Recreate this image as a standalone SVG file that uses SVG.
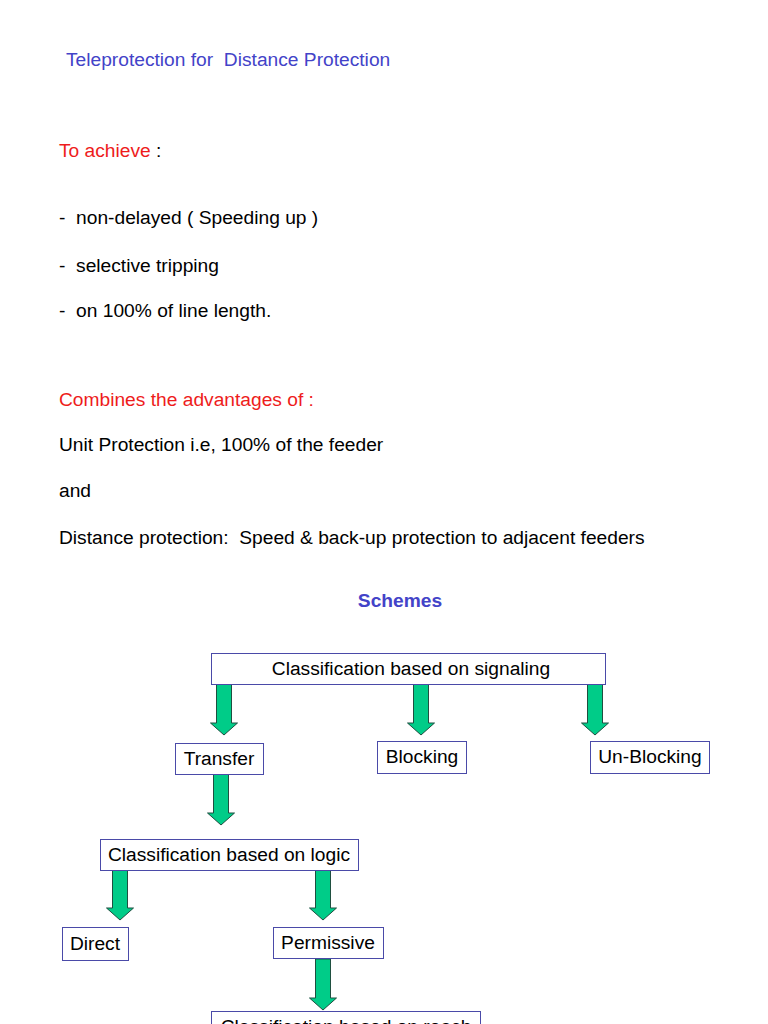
<svg xmlns="http://www.w3.org/2000/svg" width="768" height="1024" viewBox="0 0 768 1024">
<style>
text{font-family:"Liberation Sans",Arial,sans-serif;font-size:19.2px;fill:#000;white-space:pre}
.blue{fill:#4343c8}
.red{fill:#ee1c1c}
.bold{font-weight:bold}
.box rect{fill:#fff;stroke:#4a4aa8;stroke-width:1}
.box text{text-anchor:middle}
.arr{fill:#00cc88;stroke:#1f4f40;stroke-width:1;stroke-linejoin:miter}
</style>
<rect width="768" height="1024" fill="#fff"/>
<g id="texts">
<text x="66" y="66" class="blue">Teleprotection for  Distance Protection</text>
<text x="59" y="157"><tspan class="red">To achieve</tspan> :</text>
<text x="59" y="224">-  non-delayed ( Speeding up )</text>
<text x="59" y="272">-  selective tripping</text>
<text x="59" y="317">-  on 100% of line length.</text>
<text x="59" y="406" class="red">Combines the advantages of :</text>
<text x="59" y="451">Unit Protection i.e, 100% of the feeder</text>
<text x="59" y="497">and</text>
<text x="59" y="544">Distance protection:  Speed &amp; back-up protection to adjacent feeders</text>
<text x="400" y="607" class="blue bold" text-anchor="middle">Schemes</text>
</g>
<g id="connectors">
<path class="arr" d="M216.5,684 h15 V723 h6 L224,735 L210.5,723 h6 Z"/>
<path class="arr" d="M413.5,684 h15 V723 h6 L421,735 L407.5,723 h6 Z"/>
<path class="arr" d="M587.5,684 h15 V723 h6 L595,735 L581.5,723 h6 Z"/>
<path class="arr" d="M213.5,774 h15 V813 h6 L221,825 L207.5,813 h6 Z"/>
<path class="arr" d="M112.5,870 h15 V908 h6 L120,920 L106.5,908 h6 Z"/>
<path class="arr" d="M315.5,870 h15 V908 h6 L323,920 L309.5,908 h6 Z"/>
<path class="arr" d="M315.5,959 h15 V998 h6 L323,1010 L309.5,998 h6 Z"/>
</g>
<g id="n-signaling" class="box"><rect x="211.5" y="653.5" width="394" height="31"/><text x="411" y="675">Classification based on signaling</text></g>
<g id="n-transfer" class="box"><rect x="175.5" y="743.5" width="88" height="31"/><text x="219" y="765">Transfer</text></g>
<g id="n-blocking" class="box"><rect x="377.5" y="741.5" width="89" height="32"/><text x="422" y="763">Blocking</text></g>
<g id="n-unblocking" class="box"><rect x="590.5" y="741.5" width="119" height="32"/><text x="650" y="763">Un-Blocking</text></g>
<g id="n-logic" class="box"><rect x="100.5" y="839.5" width="258" height="31"/><text x="229" y="861">Classification based on logic</text></g>
<g id="n-direct" class="box"><rect x="62.5" y="927.5" width="66" height="33"/><text x="95" y="950">Direct</text></g>
<g id="n-permissive" class="box"><rect x="273.5" y="927.5" width="110" height="31"/><text x="328" y="949">Permissive</text></g>
<g id="n-reach" class="box"><rect x="211.5" y="1011.5" width="269" height="31"/><text x="346" y="1033">Classification based on reach</text></g>
</svg>
